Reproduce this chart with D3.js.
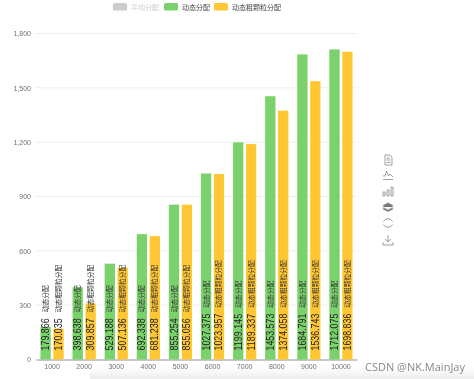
<!DOCTYPE html>
<html>
<head>
<meta charset="utf-8">
<script src="https://cdn.jsdelivr.net/npm/d3@7"></script>
<style>
  html, body { margin: 0; padding: 0; background: #fff; }
  svg { display: block; filter: blur(0.35px); }
  text { font-family: "Liberation Sans", "Noto Sans CJK SC", sans-serif; }
</style>
</head>
<body>
<div id="chart"></div>
<script>
var categories = ["1000", "2000", "3000", "4000", "5000", "6000", "7000", "8000", "9000", "10000"];
var seriesNames = ["平均分配", "动态分配", "动态粗颗粒分配"];
var dynamicValues = [179.866, 398.638, 529.188, 692.338, 855.254, 1027.375, 1199.145, 1453.573, 1684.791, 1712.075];
var coarseValues = [170.035, 309.857, 507.136, 681.238, 855.056, 1023.957, 1189.337, 1374.058, 1536.743, 1698.836];
var yTicks = [0, 300, 600, 900, 1200, 1500, 1800];

var svgWidth = 474;
var svgHeight = 379;
var margin = { top: 33.5, right: 117, bottom: 19.5, left: 36 };
var width = svgWidth - margin.left - margin.right;
var height = svgHeight - margin.top - margin.bottom;

var svg = d3.select("#chart")
  .append("svg")
  .attr("width", svgWidth)
  .attr("height", svgHeight);

// soft grey fade along the bottom edge of the screenshot
var grad = svg.append("defs").append("linearGradient")
  .attr("id", "fade").attr("x1", 0).attr("x2", 0).attr("y1", 0).attr("y2", 1);
grad.append("stop").attr("offset", 0).attr("stop-color", "#f1f1f1").attr("stop-opacity", 0);
grad.append("stop").attr("offset", 1).attr("stop-color", "#ececec").attr("stop-opacity", 1);
svg.append("rect")
  .attr("x", 90).attr("y", 366).attr("width", 384).attr("height", 13)
  .attr("fill", "url(#fade)");

var chartGroup = svg.append("g")
  .attr("transform", `translate(${margin.left}, ${margin.top})`);

var xScale = d3.scaleBand()
  .domain(categories)
  .range([0, width]);

var innerScale = d3.scaleBand()
  .domain(["dynamic", "coarse"])
  .range([0, xScale.bandwidth()])
  .paddingInner(0.2)
  .paddingOuter(0.345);

var yScale = d3.scaleLinear()
  .domain([0, 1800])
  .range([height, 0]);

// Gridlines
chartGroup.selectAll(".grid")
  .data(yTicks.filter(d => d > 0))
  .enter()
  .append("line")
  .attr("x1", 0)
  .attr("x2", width)
  .attr("y1", d => yScale(d))
  .attr("y2", d => yScale(d))
  .attr("stroke", "#eeeeee");

// Axes
var leftAxis = d3.axisLeft(yScale)
  .tickValues(yTicks)
  .tickFormat(d3.format(","))
  .tickSize(0)
  .tickPadding(5);
var axisY = chartGroup.append("g").call(leftAxis);
axisY.select(".domain").remove();
axisY.selectAll("text").attr("font-size", 7).attr("fill", "#6e7079");

var bottomAxis = d3.axisBottom(xScale).tickSize(0).tickPadding(5);
var axisX = chartGroup.append("g")
  .attr("transform", `translate(0, ${height})`)
  .call(bottomAxis);
axisX.select(".domain").attr("stroke", "#8d8f96");
axisX.selectAll("text").attr("font-size", 7).attr("fill", "#6e7079");

var series = [
  { key: "dynamic", name: seriesNames[1], values: dynamicValues, color: "#7bd16b" },
  { key: "coarse", name: seriesNames[2], values: coarseValues, color: "#ffc733" }
];

var valueText = d3.format(".3f");
// the value text is a little squeezed in the source, about 4.6px per character
var valueLength = d => valueText(d).length * 4.6;

series.forEach(function(s) {
  var group = chartGroup.append("g");
  group.selectAll("rect")
    .data(s.values)
    .enter()
    .append("rect")
    .attr("x", (d, i) => xScale(categories[i]) + innerScale(s.key))
    .attr("y", d => yScale(d))
    .attr("width", innerScale.bandwidth())
    .attr("height", d => height - yScale(d))
    .attr("fill", s.color);

  var barCenter = i => xScale(categories[i]) + innerScale(s.key) + innerScale.bandwidth() / 2;

  // rotated labels: value at the foot of the bar, series name above it
  group.selectAll(".value")
    .data(s.values)
    .enter()
    .append("text")
    .attr("class", "value")
    .attr("transform", (d, i) => `translate(${barCenter(i)}, ${height - 9}) rotate(-90)`)
    .attr("dominant-baseline", "central")
    .attr("font-size", 10)
    .attr("textLength", valueLength)
    .attr("lengthAdjust", "spacingAndGlyphs")
    .attr("fill", "#222")
    .text(valueText);

  group.selectAll(".name")
    .data(s.values)
    .enter()
    .append("text")
    .attr("class", "name")
    .attr("transform", (d, i) => `translate(${barCenter(i)}, ${height - 15 - valueLength(d)}) rotate(-90)`)
    .attr("dominant-baseline", "central")
    .attr("font-size", 6.8)
    .attr("fill", "#333")
    .text(s.name);
});

// Legend
var legendItems = [
  { name: seriesNames[0], color: "#cccccc", text: "#cccccc", x: 113 },
  { name: seriesNames[1], color: "#7bd16b", text: "#444", x: 164 },
  { name: seriesNames[2], color: "#ffc733", text: "#444", x: 214 }
];
var legend = svg.selectAll(".legend")
  .data(legendItems)
  .enter()
  .append("g")
  .attr("transform", d => `translate(${d.x}, 3)`);
legend.append("rect")
  .attr("width", 14).attr("height", 7.5).attr("rx", 1.5)
  .attr("fill", d => d.color);
legend.append("text")
  .attr("x", 18).attr("y", 7)
  .attr("font-size", 7)
  .attr("fill", d => d.text)
  .text(d => d.name);

// Toolbox icons
var iconPaths = [
  "M-3,-5H2L4,-3V5H-3Z M-1.5,-2H2 M-1.5,0H2.5 M-1.5,2.500H2.5",
  "M-5,1L-3,1L-1.500,-4L0.500,1L2,-1L5,2 M-5,4.500H5",
  "M-5,5V1H-3V5Z M-1,5V-1H1V5Z M3,5V-4H5V5Z",
  "M0,-4.500L5,-2V2.500L0,5L-5,2.500V-2Z M-5,0L0,2.500L5,0",
  "M4.500,-1.500A5,5 0 0 0 -4.500,-1.500 M-4.500,1.500A5,5 0 0 0 4.500,1.500",
  "M0,-5V2 M-3,-1L0,2L3,-1 M-5,2V5H5V2"
];
var iconY = [160, 175, 191, 207, 223, 240];
svg.selectAll(".tool")
  .data(iconPaths)
  .enter()
  .append("path")
  .attr("transform", (d, i) => `translate(388, ${iconY[i]})`)
  .attr("d", d => d)
  .attr("fill", (d, i) => i === 3 ? "#777" : "none")
  .attr("stroke", (d, i) => i === 3 ? "#ddd" : "#888")
  .attr("stroke-width", 0.8);

// Watermark
svg.append("text")
  .attr("x", 365)
  .attr("y", 371)
  .attr("font-size", 11)
  .attr("fill", "#8a8a8a")
  .style("font-family", "'Open Sans', sans-serif")
  .text("CSDN @NK.MainJay");
</script>
</body>
</html>
